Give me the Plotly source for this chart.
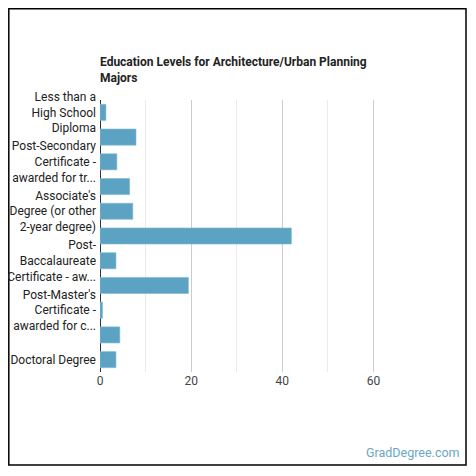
import plotly.graph_objects as go

# data -----------------------------------------------------------------------------------------------------------------
categories = [
    "Less than a High School Diploma",
    "High School Diploma",
    "Post-Secondary Certificate - awarded for training",
    "Some College Courses",
    "Associate's Degree (or other 2-year degree)",
    "Bachelor's Degree",
    "Post-Baccalaureate Certificate - awarded",
    "Master's Degree",
    "Post-Master's Certificate - awarded for completion",
    "First Professional Degree",
    "Doctoral Degree",
]
percents = [1.3, 7.9, 3.7, 6.5, 7.2, 42.0, 3.5, 19.4, 0.55, 4.35, 3.5]

# only every other label fits, like the original
shown_ticks = [categories[i] for i in (0, 2, 4, 6, 8, 10)]
shown_text = [
    "Less than a<br>High School<br>Diploma",
    "Post-Secondary<br>Certificate -<br>awarded for tr...",
    "Associate's<br>Degree (or other<br>2-year degree)",
    "Post-<br>Baccalaureate<br>Certificate - aw...",
    "Post-Master's<br>Certificate -<br>awarded for c...",
    "Doctoral Degree",
]
x_ticks = [0, 20, 40, 60]

title_text = "Education Levels for Architecture/Urban Planning<br>Majors"
watermark = "GradDegree.com"

# layout helpers (pixel -> paper) --------------------------------------------------------------------------------------
# the page body adds an 8px offset, so figure pixels are page pixels minus 8
W, H = 476, 476
L, R, T, B = 92, 65, 92, 112
PW, PH = W - L - R, H - T - B


def px_x(p):
    return (p - L) / PW


def px_y(p):
    return (H - B - p) / PH


bar_color = "#5ca3c3"

fig = go.Figure(go.Bar(
    x=percents,
    y=categories,
    orientation="h",
    marker=dict(color=bar_color, line=dict(color="#7fb8d3", width=0.6)),
    width=0.65,
))

fig.update_layout(
    width=W,
    height=H,
    margin=dict(l=L, r=R, t=T, b=B, autoexpand=False),
    paper_bgcolor="white",
    plot_bgcolor="white",
    font=dict(family="Roboto", size=12, color="#222222"),
    showlegend=False,
    title=dict(
        text="<b>" + title_text + "</b>",
        x=px_x(92), xref="paper", xanchor="left",
        y=1 - 58 / H, yref="container", yanchor="middle",
        font=dict(family="Roboto", size=12, color="#222222"),
    ),
    shapes=[dict(
        type="rect", xref="paper", yref="paper",
        x0=px_x(0.8), x1=px_x(458), y0=px_y(457), y1=px_y(0.8),
        line=dict(color="black", width=1.5),
        layer="below",
    )],
    annotations=[dict(
        text=watermark, xref="paper", yref="paper",
        x=px_x(454), y=px_y(444), xanchor="right", yanchor="middle",
        showarrow=False,
        font=dict(family="Roboto", size=12.5, color="#6aa6c6"),
    )],
)

fig.update_xaxes(
    range=[0, 70],
    tickvals=x_ticks,
    showgrid=True,
    gridcolor="#cccccc",
    gridwidth=1,
    minor=dict(dtick=10, showgrid=True, gridcolor="#ebebeb", gridwidth=1),
    zeroline=True,
    zerolinecolor="#333333",
    zerolinewidth=1,
    showline=False,
    ticks="",
    tickfont=dict(color="#444444", size=12),
    fixedrange=True,
)
fig.update_yaxes(
    categoryorder="array",
    categoryarray=categories,
    autorange="reversed",
    tickmode="array",
    tickvals=shown_ticks,
    ticktext=shown_text,
    showgrid=False,
    ticks="",
    ticklabelstandoff=3,
    tickfont=dict(color="#222222", size=12),
)

fig.write_html("out.html")
